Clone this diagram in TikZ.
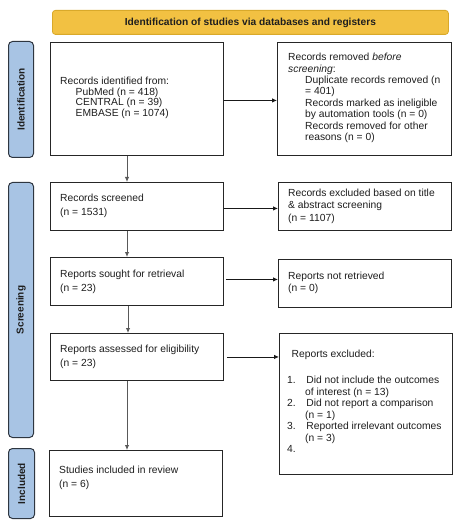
\documentclass[tikz,border=0pt]{standalone}
\usepackage{fontspec}
\setmainfont{Liberation Sans}
\usetikzlibrary{arrows.meta}
\definecolor{sidefill}{HTML}{A8C4E4}
\definecolor{sidedraw}{HTML}{2E3640}
\definecolor{banfill}{HTML}{F2C142}
\definecolor{bandraw}{HTML}{D9A92A}
\definecolor{txt}{HTML}{1E1E1E}
\tikzset{
  box/.style={draw=black!85, line width=0.9pt, anchor=north west, inner sep=0pt, fill=white},
  side/.style={draw=sidedraw, fill=sidefill, line width=1pt, rounded corners=4pt, anchor=north west, inner sep=0pt},
  sidetxt/.style={rotate=90, font=\fontsize{10}{12}\selectfont\bfseries, text=txt, inner sep=0pt},
  banner/.style={draw=bandraw, fill=banfill, line width=0.8pt, rounded corners=3pt, anchor=north west, inner sep=0pt, font=\fontsize{10.2}{12}\selectfont\bfseries, text=txt},
  tx/.style={anchor=west, align=left, inner sep=0pt, text=txt},
  arr/.style={-{Latex[length=5pt,width=4.5pt]}, line width=0.8pt, draw=black!90},
  varr/.style={-{Latex[length=5pt,width=4.5pt]}, line width=0.9pt, draw=black!65},
}
\begin{document}
\begin{tikzpicture}[x=1pt,y=-1pt]
\useasboundingbox (0,0) rectangle (474,526);
% banner
\node[banner, minimum width=396, minimum height=24] (ban) at (52,10) {Identification of studies via databases and registers};
% side bars
\node[side, minimum width=25, minimum height=116] (sid) at (8,41) {};
\node[sidetxt] at (sid.center) {Identification};
\node[side, minimum width=25, minimum height=255] (sscr) at (8,182) {};
\node[sidetxt] at (sscr.center) {Screening};
\node[side, minimum width=26, minimum height=70] (sinc) at (8,448) {};
\node[sidetxt] at (sinc.center) {Included};
% boxes
\node[box, minimum width=173, minimum height=113] (b1) at (50,42) {};
\node[box, minimum width=174, minimum height=113] (rem) at (277,42) {};
\node[box, minimum width=173, minimum height=48] (scr) at (50,182) {};
\node[box, minimum width=173, minimum height=48] (exc) at (278,182) {};
\node[box, minimum width=173, minimum height=48] (sou) at (50,257) {};
\node[box, minimum width=173, minimum height=48] (nr) at (278,259) {};
\node[box, minimum width=173, minimum height=47] (ass) at (50,333) {};
\node[box, minimum width=173, minimum height=141] (rex) at (279,333) {};
\node[box, minimum width=173, minimum height=66] (stu) at (49,450) {};
% texts
\node[tx, font=\fontsize{10.3}{10.4}\selectfont] (t1) at (60,97.8) {Records identified from:\\\hspace*{15.5pt}PubMed (n = 418)\\\hspace*{15.5pt}CENTRAL (n = 39)\\\hspace*{15.5pt}EMBASE (n = 1074)};
\node[tx, font=\fontsize{10.3}{11.35}\selectfont] (t2) at (288,98) {Records removed \textit{before}\\\textit{screening}:\\\hspace*{17pt}Duplicate records removed (n\\\hspace*{17pt}= 401)\\\hspace*{17pt}Records marked as ineligible\\\hspace*{17pt}by automation tools (n = 0)\\\hspace*{17pt}Records removed for other\\\hspace*{17pt}reasons (n = 0)};
\node[tx, font=\fontsize{10.3}{14}\selectfont] (t3) at (60,206.3) {Records screened\\(n = 1531)};
\node[tx, font=\fontsize{10.3}{12.2}\selectfont] (t4) at (288,206.2) {Records excluded based on title\\\& abstract screening\\(n = 1107)};
\node[tx, font=\fontsize{10.3}{13.3}\selectfont] (t5) at (60,281.7) {Reports sought for retrieval\\(n = 23)};
\node[tx, font=\fontsize{10.3}{12}\selectfont] (t6) at (288,283.3) {Reports not retrieved\\(n = 0)};
\node[tx, font=\fontsize{10.3}{14}\selectfont] (t7) at (60,357) {Reports assessed for eligibility\\(n = 23)};
\node[tx, font=\fontsize{10.3}{12}\selectfont] (t8) at (291.5,355) {Reports excluded:};
\node[tx, font=\fontsize{10.3}{11.5}\selectfont] (t9) at (287,414.5) {1.\hspace*{10.6pt}Did not include the outcomes\\\hspace*{18pt}of interest (n = 13)\\2.\hspace*{10.6pt}Did not report a comparison\\\hspace*{18pt}(n = 1)\\3.\hspace*{10.6pt}Reported irrelevant outcomes\\\hspace*{18pt}(n = 3)\\4.};
\node[tx, font=\fontsize{10.3}{14}\selectfont] (t10) at (59,478) {Studies included in review\\(n = 6)};
% connectors
\draw[arr] ([yshift=-1.5]b1.east) -- ([yshift=-1.5]b1.east -| rem.west);
\draw[arr] ([yshift=-2]scr.east) -- ([yshift=-2]scr.east -| exc.west);
\draw[arr] ([xshift=2,yshift=2]sou.east) -- ([yshift=2]sou.east -| nr.west);
\draw[arr] ([xshift=3]ass.east) -- (ass.east -| rex.west);
\draw[varr] ([xshift=77]b1.south west) -- ([xshift=77]b1.south west |- scr.north);
\draw[varr] ([xshift=77]scr.south west) -- ([xshift=77]scr.south west |- sou.north);
\draw[varr] ([xshift=78]sou.south west) -- ([xshift=78]sou.south west |- ass.north);
\draw[varr] ([xshift=77]ass.south west) -- ([xshift=77]ass.south west |- stu.north);
\end{tikzpicture}
\end{document}
